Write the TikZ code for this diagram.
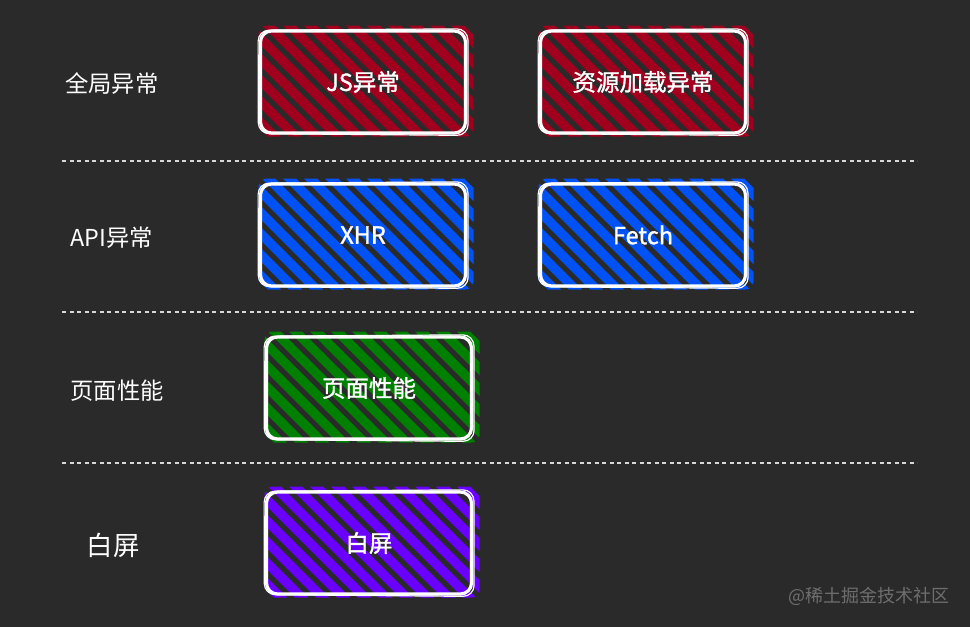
\documentclass[tikz,border=0pt]{standalone}
\usepackage{fontspec}
\newfontfamily\cjk{Noto Sans CJK SC}
\newfontfamily\cjkb[FakeBold=1.3]{Noto Sans CJK SC}
\usetikzlibrary{calc}
\definecolor{bg}{HTML}{2A2A2A}
\definecolor{hred}{HTML}{A0001E}
\definecolor{hblue}{HTML}{0052F5}
\definecolor{hgreen}{HTML}{008000}
\definecolor{hpurple}{HTML}{6A00FF}
\definecolor{sep}{HTML}{D8D8D8}
\definecolor{mark}{HTML}{6E6E6E}
\tikzset{
  hatchbox/.style={rectangle, rounded corners=8pt, minimum width=215pt, minimum height=111pt, inner sep=0pt,
    path picture={
      \foreach \k in {-10,...,10}{
        \draw[draw=#1, line width=9.5pt, line cap=round]
          ([xshift=\k*21pt]path picture bounding box.center) ++(-75,-75) -- ++(150,150);
      }
    }},
  sketchbox/.style={draw=white, line width=3.2pt, rounded corners=11pt, minimum width=205pt, minimum height=102pt,
    inner sep=0pt, text=white, font=\cjkb\fontsize{23.5}{27}\selectfont},
  rowlabel/.style={text=white, font=\cjk\fontsize{23.3}{27}\selectfont, inner sep=0pt},
  sepline/.style={draw=sep, line width=1.1pt, dash pattern=on 4pt off 3.5pt},
}
\newcommand{\sketchnode}[5]{% name, color, x, y, text
  \node[hatchbox=#2] (#1H) at (#3+3,#4-1) {};
  \node[sketchbox] (#1) at (#3,#4) {\raisebox{-2.5pt}{#5}};
  \draw[white, line width=1.2pt, rounded corners=11pt]
    ($(#1.north west)+(-0.8,0.8)$) -- ($(#1.north east)+(0.8,-0.6)$) -- ($(#1.south east)+(1,0.8)$) -- ($(#1.south west)+(-0.6,-1)$) -- cycle;
}
\begin{document}
\begin{tikzpicture}[x=1pt,y=-1pt]
  \fill[bg] (0,0) rectangle (970,627);
  \useasboundingbox (0,0) rectangle (970,627);

  % separators
  \coordinate (s1a) at (62,161); \coordinate (s1b) at (917,161);
  \coordinate (s2a) at (62,312); \coordinate (s2b) at (917,312);
  \coordinate (s3a) at (62,463); \coordinate (s3b) at (917,463);
  \draw[sepline] (s1a) -- (s1b);
  \draw[sepline] (s2a) -- (s2b);
  \draw[sepline] (s3a) -- (s3b);

  % row labels
  \node[rowlabel] (l1) at (112,84) {全局异常};
  \node[rowlabel] (l2) at (112,238) {API异常};
  \node[rowlabel] (l3) at (117,391) {页面性能};
  \node[rowlabel, font=\cjk\fontsize{26.5}{30}\selectfont] (l4) at (113,545) {白屏};

  % boxes
  \sketchnode{js}{hred}{363}{82}{JS异常}
  \sketchnode{res}{hred}{643}{82}{资源加载异常}
  \sketchnode{xhr}{hblue}{363}{235}{XHR}
  \sketchnode{fetch}{hblue}{643}{235}{Fetch}
  \sketchnode{perf}{hgreen}{369}{388}{页面性能}
  \sketchnode{wscr}{hpurple}{369}{543}{白屏}

  % watermark
  \node[text=mark, font=\cjk\fontsize{18}{21}\selectfont, inner sep=0pt] (wm) at (869,596) {@稀土掘金技术社区};
\end{tikzpicture}
\end{document}
